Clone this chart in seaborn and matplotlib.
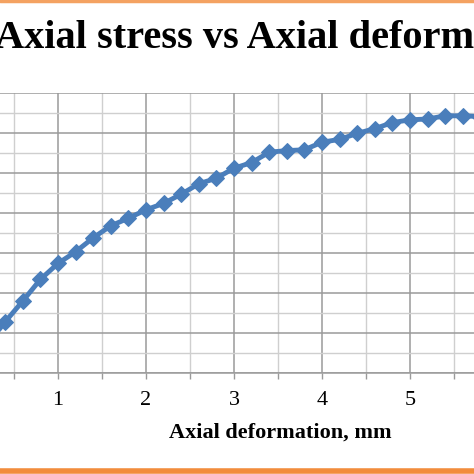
import numpy as np
import pandas as pd
import seaborn as sns
import matplotlib.pyplot as plt
from matplotlib.ticker import MultipleLocator
from matplotlib.lines import Line2D

# axial deformation (mm) and axial stress
deformation = [0.0, 0.2, 0.4, 0.6, 0.8, 1.0, 1.2, 1.4, 1.6, 1.8, 2.0, 2.2, 2.4, 2.6,
               2.8, 3.0, 3.2, 3.4, 3.6, 3.8, 4.0, 4.2, 4.4, 4.6, 4.8, 5.0, 5.2,
               5.4, 5.6, 5.8]
stress = [0.0, 0.72, 1.28, 1.80, 2.34, 2.74, 3.03, 3.38, 3.68, 3.87, 4.08, 4.24, 4.47, 4.73,
          4.87, 5.12, 5.26, 5.52, 5.56, 5.58, 5.77, 5.84, 5.99, 6.11, 6.26, 6.33, 6.35,
          6.43, 6.43, 6.41]
x_ticks = [1, 2, 3, 4, 5]
title = "Axial stress vs Axial deformation"

df = pd.DataFrame({"deformation": deformation, "stress": stress})

sns.set_style("white")
plt.rcParams["font.family"] = ["Liberation Serif", "DejaVu Serif"]
plt.rcParams["text.color"] = "black"
plt.rcParams["xtick.color"] = "black"

W = 474
fig = plt.figure(figsize=(4.74, 4.74), dpi=100)
ax = fig.add_axes([-30 / W, 101 / W, 528 / W, 280 / W])

sns.lineplot(data=df, x="deformation", y="stress", ax=ax, color="#4A7EBB",
             linewidth=3.5, marker="D", markersize=8, markeredgecolor="#4A7EBB")

ax.set_xlim(0, 6)
ax.set_ylim(0, 7)
ax.xaxis.set_major_locator(MultipleLocator(1))
ax.xaxis.set_minor_locator(MultipleLocator(0.5))
ax.yaxis.set_major_locator(MultipleLocator(1))
ax.yaxis.set_minor_locator(MultipleLocator(0.5))
ax.set_xticks(x_ticks)
ax.set_xticklabels([str(t) for t in x_ticks])
ax.set_yticklabels([])
ax.grid(which="major", color="#9a9a9a", linewidth=1.1)
ax.grid(which="minor", color="#cfcfcf", linewidth=1.0)
ax.set_axisbelow(True)
ax.tick_params(axis="x", which="both", length=4, width=1, color="#9a9a9a",
               labelcolor="black", direction="out", bottom=True,
               labelsize=16, pad=9)
ax.tick_params(axis="y", which="both", length=0)
for s in ["top", "right", "left"]:
    ax.spines[s].set_visible(False)
ax.spines["bottom"].set_color("#9a9a9a")
ax.spines["bottom"].set_linewidth(1.1)
ax.set_xlabel("")
ax.set_ylabel("")

# title is cropped on both sides in the source
fig.text(-5 / W, 1 - 48 / W, title, ha="left", va="baseline",
         fontsize=29.1, fontweight="bold", color="black")
fig.text(280 / W, 1 - 433 / W, "Axial deformation, mm", ha="center",
         va="center", fontsize=16, fontweight="bold", color="black")

# orange frame lines at top and bottom of the crop
fig.add_artist(Line2D([0, 1], [1 - 1 / W, 1 - 1 / W], color="#F4A261",
                      linewidth=2.5, transform=fig.transFigure))
fig.add_artist(Line2D([0, 1], [3 / W, 3 / W], color="#F28C3C",
                      linewidth=4, transform=fig.transFigure))

fig.savefig("out.png", dpi=100)
